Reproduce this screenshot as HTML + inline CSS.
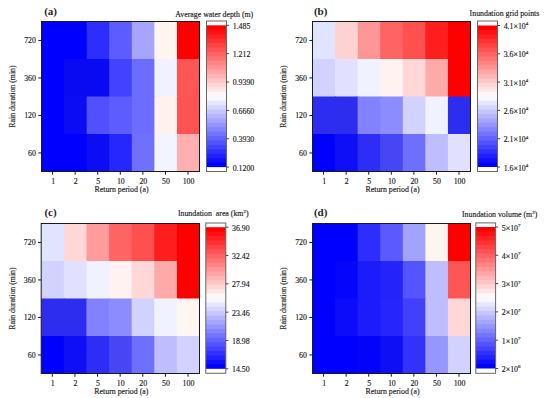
<!DOCTYPE html><html><head><meta charset="utf-8"><style>html,body{margin:0;padding:0;background:#fff;}svg{display:block;}text{font-family:"Liberation Serif",serif;fill:#1a1a1a;stroke:#1a1a1a;stroke-width:0.15px;}</style></head><body>
<svg width="550" height="398" viewBox="0 0 550 398">
<rect width="550" height="398" fill="#fff"/>
<rect x="41.50" y="21.50" width="23.57" height="38.50" fill="#0000ff"/>
<rect x="64.07" y="21.50" width="23.57" height="38.50" fill="#0000ff"/>
<rect x="86.64" y="21.50" width="23.57" height="38.50" fill="#2d2dff"/>
<rect x="109.21" y="21.50" width="23.57" height="38.50" fill="#5c5cff"/>
<rect x="131.79" y="21.50" width="23.57" height="38.50" fill="#a5a5ff"/>
<rect x="154.36" y="21.50" width="23.57" height="38.50" fill="#fff5f0"/>
<rect x="176.93" y="21.50" width="22.57" height="38.50" fill="#ff0000"/>
<rect x="41.50" y="59.00" width="23.57" height="38.50" fill="#0000ff"/>
<rect x="64.07" y="59.00" width="23.57" height="38.50" fill="#0a0af2"/>
<rect x="86.64" y="59.00" width="23.57" height="38.50" fill="#0a0af2"/>
<rect x="109.21" y="59.00" width="23.57" height="38.50" fill="#4242ff"/>
<rect x="131.79" y="59.00" width="23.57" height="38.50" fill="#6c6cff"/>
<rect x="154.36" y="59.00" width="23.57" height="38.50" fill="#f0f3ff"/>
<rect x="176.93" y="59.00" width="22.57" height="38.50" fill="#ff5555"/>
<rect x="41.50" y="96.50" width="23.57" height="38.50" fill="#0000ff"/>
<rect x="64.07" y="96.50" width="23.57" height="38.50" fill="#0c0cf2"/>
<rect x="86.64" y="96.50" width="23.57" height="38.50" fill="#5050ff"/>
<rect x="109.21" y="96.50" width="23.57" height="38.50" fill="#5c5cff"/>
<rect x="131.79" y="96.50" width="23.57" height="38.50" fill="#6c6cff"/>
<rect x="154.36" y="96.50" width="23.57" height="38.50" fill="#fff2ee"/>
<rect x="176.93" y="96.50" width="22.57" height="38.50" fill="#ff5252"/>
<rect x="41.50" y="134.00" width="23.57" height="37.50" fill="#0000ff"/>
<rect x="64.07" y="134.00" width="23.57" height="37.50" fill="#0000ff"/>
<rect x="86.64" y="134.00" width="23.57" height="37.50" fill="#0c0cf5"/>
<rect x="109.21" y="134.00" width="23.57" height="37.50" fill="#2626ff"/>
<rect x="131.79" y="134.00" width="23.57" height="37.50" fill="#7070ff"/>
<rect x="154.36" y="134.00" width="23.57" height="37.50" fill="#f2f5ff"/>
<rect x="176.93" y="134.00" width="22.57" height="37.50" fill="#ffafaf"/>
<rect x="41.50" y="21.50" width="158.00" height="150.00" fill="none" stroke="#1a1a1a" stroke-width="1"/>
<line x1="52.59" y1="171.50" x2="52.59" y2="174.70" stroke="#1a1a1a" stroke-width="1"/>
<text x="53.09" y="184.20" font-size="7.85" text-anchor="middle">1</text>
<line x1="75.16" y1="171.50" x2="75.16" y2="174.70" stroke="#1a1a1a" stroke-width="1"/>
<text x="75.66" y="184.20" font-size="7.85" text-anchor="middle">2</text>
<line x1="97.73" y1="171.50" x2="97.73" y2="174.70" stroke="#1a1a1a" stroke-width="1"/>
<text x="98.23" y="184.20" font-size="7.85" text-anchor="middle">5</text>
<line x1="120.30" y1="171.50" x2="120.30" y2="174.70" stroke="#1a1a1a" stroke-width="1"/>
<text x="120.80" y="184.20" font-size="7.85" text-anchor="middle">10</text>
<line x1="142.87" y1="171.50" x2="142.87" y2="174.70" stroke="#1a1a1a" stroke-width="1"/>
<text x="143.37" y="184.20" font-size="7.85" text-anchor="middle">20</text>
<line x1="165.44" y1="171.50" x2="165.44" y2="174.70" stroke="#1a1a1a" stroke-width="1"/>
<text x="165.94" y="184.20" font-size="7.85" text-anchor="middle">50</text>
<line x1="188.01" y1="171.50" x2="188.01" y2="174.70" stroke="#1a1a1a" stroke-width="1"/>
<text x="188.51" y="184.20" font-size="7.85" text-anchor="middle">100</text>
<line x1="38.30" y1="40.45" x2="41.50" y2="40.45" stroke="#1a1a1a" stroke-width="1"/>
<text x="35.90" y="43.45" font-size="7.85" text-anchor="end">720</text>
<line x1="38.30" y1="77.95" x2="41.50" y2="77.95" stroke="#1a1a1a" stroke-width="1"/>
<text x="35.90" y="80.95" font-size="7.85" text-anchor="end">360</text>
<line x1="38.30" y1="115.45" x2="41.50" y2="115.45" stroke="#1a1a1a" stroke-width="1"/>
<text x="35.90" y="118.45" font-size="7.85" text-anchor="end">120</text>
<line x1="38.30" y1="152.95" x2="41.50" y2="152.95" stroke="#1a1a1a" stroke-width="1"/>
<text x="35.90" y="155.95" font-size="7.85" text-anchor="end">60</text>
<text x="121.50" y="191.80" font-size="7.85" text-anchor="middle">Return period (a)</text>
<text x="0" y="0" font-size="7.85" text-anchor="middle" transform="translate(15.10,96.50) rotate(-90)">Rain duration (min)</text>
<text x="44.20" y="14.90" font-size="11" font-weight="bold" style="stroke-width:0;fill:#262626">(a)</text>
<rect x="206.50" y="25.30" width="20.00" height="5.43" fill="#ff0000"/>
<rect x="206.50" y="29.73" width="20.00" height="5.43" fill="#ff1010"/>
<rect x="206.50" y="34.16" width="20.00" height="5.43" fill="#ff2121"/>
<rect x="206.50" y="38.59" width="20.00" height="5.43" fill="#ff3131"/>
<rect x="206.50" y="43.02" width="20.00" height="5.43" fill="#ff4242"/>
<rect x="206.50" y="47.46" width="20.00" height="5.43" fill="#ff5252"/>
<rect x="206.50" y="51.89" width="20.00" height="5.43" fill="#ff6363"/>
<rect x="206.50" y="56.32" width="20.00" height="5.43" fill="#ff7373"/>
<rect x="206.50" y="60.75" width="20.00" height="5.43" fill="#ff8484"/>
<rect x="206.50" y="65.18" width="20.00" height="5.43" fill="#ff9494"/>
<rect x="206.50" y="69.61" width="20.00" height="5.43" fill="#ffa5a5"/>
<rect x="206.50" y="74.04" width="20.00" height="5.43" fill="#ffb5b5"/>
<rect x="206.50" y="78.47" width="20.00" height="5.43" fill="#ffc5c5"/>
<rect x="206.50" y="82.91" width="20.00" height="5.43" fill="#ffd6d6"/>
<rect x="206.50" y="87.34" width="20.00" height="5.43" fill="#ffe6e6"/>
<rect x="206.50" y="91.77" width="20.00" height="5.43" fill="#fff7f7"/>
<rect x="206.50" y="96.20" width="20.00" height="5.43" fill="#f7f7ff"/>
<rect x="206.50" y="100.63" width="20.00" height="5.43" fill="#e6e6ff"/>
<rect x="206.50" y="105.06" width="20.00" height="5.43" fill="#d6d6ff"/>
<rect x="206.50" y="109.49" width="20.00" height="5.43" fill="#c5c5ff"/>
<rect x="206.50" y="113.92" width="20.00" height="5.43" fill="#b5b5ff"/>
<rect x="206.50" y="118.36" width="20.00" height="5.43" fill="#a5a5ff"/>
<rect x="206.50" y="122.79" width="20.00" height="5.43" fill="#9494ff"/>
<rect x="206.50" y="127.22" width="20.00" height="5.43" fill="#8484ff"/>
<rect x="206.50" y="131.65" width="20.00" height="5.43" fill="#7373ff"/>
<rect x="206.50" y="136.08" width="20.00" height="5.43" fill="#6363ff"/>
<rect x="206.50" y="140.51" width="20.00" height="5.43" fill="#5252ff"/>
<rect x="206.50" y="144.94" width="20.00" height="5.43" fill="#4242ff"/>
<rect x="206.50" y="149.38" width="20.00" height="5.43" fill="#3131ff"/>
<rect x="206.50" y="153.81" width="20.00" height="5.43" fill="#2121ff"/>
<rect x="206.50" y="158.24" width="20.00" height="5.43" fill="#1010ff"/>
<rect x="206.50" y="162.67" width="20.00" height="4.43" fill="#0000ff"/>
<rect x="206.50" y="21.00" width="20.00" height="150.50" fill="none" stroke="#666" stroke-width="1"/>
<line x1="226.50" y1="25.30" x2="229.10" y2="25.30" stroke="#333" stroke-width="0.9"/>
<text x="232.70" y="28.70" font-size="7.85">1.485</text>
<line x1="226.50" y1="53.66" x2="229.10" y2="53.66" stroke="#333" stroke-width="0.9"/>
<text x="232.70" y="57.06" font-size="7.85">1.212</text>
<line x1="226.50" y1="82.02" x2="229.10" y2="82.02" stroke="#333" stroke-width="0.9"/>
<text x="232.70" y="85.42" font-size="7.85">0.9390</text>
<line x1="226.50" y1="110.38" x2="229.10" y2="110.38" stroke="#333" stroke-width="0.9"/>
<text x="232.70" y="113.78" font-size="7.85">0.6660</text>
<line x1="226.50" y1="138.74" x2="229.10" y2="138.74" stroke="#333" stroke-width="0.9"/>
<text x="232.70" y="142.14" font-size="7.85">0.3930</text>
<line x1="226.50" y1="167.10" x2="229.10" y2="167.10" stroke="#333" stroke-width="0.9"/>
<text x="232.70" y="170.50" font-size="7.85">0.1200</text>
<text x="175.20" y="16.50" font-size="7.85">Average water depth (m)</text>
<rect x="312.50" y="21.50" width="23.57" height="38.50" fill="#e1e4ff"/>
<rect x="335.07" y="21.50" width="23.57" height="38.50" fill="#ffd2d2"/>
<rect x="357.64" y="21.50" width="23.57" height="38.50" fill="#ff9696"/>
<rect x="380.21" y="21.50" width="23.57" height="38.50" fill="#ff6464"/>
<rect x="402.79" y="21.50" width="23.57" height="38.50" fill="#ff5050"/>
<rect x="425.36" y="21.50" width="23.57" height="38.50" fill="#ff1e1e"/>
<rect x="447.93" y="21.50" width="22.57" height="38.50" fill="#ff0000"/>
<rect x="312.50" y="59.00" width="23.57" height="38.50" fill="#d2d2ff"/>
<rect x="335.07" y="59.00" width="23.57" height="38.50" fill="#e1e1ff"/>
<rect x="357.64" y="59.00" width="23.57" height="38.50" fill="#f0f3ff"/>
<rect x="380.21" y="59.00" width="23.57" height="38.50" fill="#fff2f0"/>
<rect x="402.79" y="59.00" width="23.57" height="38.50" fill="#ffd7d7"/>
<rect x="425.36" y="59.00" width="23.57" height="38.50" fill="#ffaaaa"/>
<rect x="447.93" y="59.00" width="22.57" height="38.50" fill="#ff0000"/>
<rect x="312.50" y="96.50" width="23.57" height="38.50" fill="#2d2df0"/>
<rect x="335.07" y="96.50" width="23.57" height="38.50" fill="#2d2df0"/>
<rect x="357.64" y="96.50" width="23.57" height="38.50" fill="#8282ff"/>
<rect x="380.21" y="96.50" width="23.57" height="38.50" fill="#8c8cff"/>
<rect x="402.79" y="96.50" width="23.57" height="38.50" fill="#d2d2ff"/>
<rect x="425.36" y="96.50" width="23.57" height="38.50" fill="#f0f3ff"/>
<rect x="447.93" y="96.50" width="22.57" height="38.50" fill="#2d2df0"/>
<rect x="312.50" y="134.00" width="23.57" height="37.50" fill="#0000ff"/>
<rect x="335.07" y="134.00" width="23.57" height="37.50" fill="#0f0ff5"/>
<rect x="357.64" y="134.00" width="23.57" height="37.50" fill="#2d2df5"/>
<rect x="380.21" y="134.00" width="23.57" height="37.50" fill="#4646f5"/>
<rect x="402.79" y="134.00" width="23.57" height="37.50" fill="#6e6eff"/>
<rect x="425.36" y="134.00" width="23.57" height="37.50" fill="#bebeff"/>
<rect x="447.93" y="134.00" width="22.57" height="37.50" fill="#e1e1ff"/>
<rect x="312.50" y="21.50" width="158.00" height="150.00" fill="none" stroke="#1a1a1a" stroke-width="1"/>
<line x1="323.59" y1="171.50" x2="323.59" y2="174.70" stroke="#1a1a1a" stroke-width="1"/>
<text x="324.09" y="184.20" font-size="7.85" text-anchor="middle">1</text>
<line x1="346.16" y1="171.50" x2="346.16" y2="174.70" stroke="#1a1a1a" stroke-width="1"/>
<text x="346.66" y="184.20" font-size="7.85" text-anchor="middle">2</text>
<line x1="368.73" y1="171.50" x2="368.73" y2="174.70" stroke="#1a1a1a" stroke-width="1"/>
<text x="369.23" y="184.20" font-size="7.85" text-anchor="middle">5</text>
<line x1="391.30" y1="171.50" x2="391.30" y2="174.70" stroke="#1a1a1a" stroke-width="1"/>
<text x="391.80" y="184.20" font-size="7.85" text-anchor="middle">10</text>
<line x1="413.87" y1="171.50" x2="413.87" y2="174.70" stroke="#1a1a1a" stroke-width="1"/>
<text x="414.37" y="184.20" font-size="7.85" text-anchor="middle">20</text>
<line x1="436.44" y1="171.50" x2="436.44" y2="174.70" stroke="#1a1a1a" stroke-width="1"/>
<text x="436.94" y="184.20" font-size="7.85" text-anchor="middle">50</text>
<line x1="459.01" y1="171.50" x2="459.01" y2="174.70" stroke="#1a1a1a" stroke-width="1"/>
<text x="459.51" y="184.20" font-size="7.85" text-anchor="middle">100</text>
<line x1="309.30" y1="40.45" x2="312.50" y2="40.45" stroke="#1a1a1a" stroke-width="1"/>
<text x="306.90" y="43.45" font-size="7.85" text-anchor="end">720</text>
<line x1="309.30" y1="77.95" x2="312.50" y2="77.95" stroke="#1a1a1a" stroke-width="1"/>
<text x="306.90" y="80.95" font-size="7.85" text-anchor="end">360</text>
<line x1="309.30" y1="115.45" x2="312.50" y2="115.45" stroke="#1a1a1a" stroke-width="1"/>
<text x="306.90" y="118.45" font-size="7.85" text-anchor="end">120</text>
<line x1="309.30" y1="152.95" x2="312.50" y2="152.95" stroke="#1a1a1a" stroke-width="1"/>
<text x="306.90" y="155.95" font-size="7.85" text-anchor="end">60</text>
<text x="392.50" y="191.80" font-size="7.85" text-anchor="middle">Return period (a)</text>
<text x="0" y="0" font-size="7.85" text-anchor="middle" transform="translate(286.10,96.50) rotate(-90)">Rain duration (min)</text>
<text x="313.90" y="14.90" font-size="11" font-weight="bold" style="stroke-width:0;fill:#262626">(b)</text>
<rect x="477.50" y="25.50" width="20.00" height="5.42" fill="#ff0000"/>
<rect x="477.50" y="29.92" width="20.00" height="5.42" fill="#ff1010"/>
<rect x="477.50" y="34.34" width="20.00" height="5.42" fill="#ff2121"/>
<rect x="477.50" y="38.77" width="20.00" height="5.42" fill="#ff3131"/>
<rect x="477.50" y="43.19" width="20.00" height="5.42" fill="#ff4242"/>
<rect x="477.50" y="47.61" width="20.00" height="5.42" fill="#ff5252"/>
<rect x="477.50" y="52.03" width="20.00" height="5.42" fill="#ff6363"/>
<rect x="477.50" y="56.45" width="20.00" height="5.42" fill="#ff7373"/>
<rect x="477.50" y="60.88" width="20.00" height="5.42" fill="#ff8484"/>
<rect x="477.50" y="65.30" width="20.00" height="5.42" fill="#ff9494"/>
<rect x="477.50" y="69.72" width="20.00" height="5.42" fill="#ffa5a5"/>
<rect x="477.50" y="74.14" width="20.00" height="5.42" fill="#ffb5b5"/>
<rect x="477.50" y="78.56" width="20.00" height="5.42" fill="#ffc5c5"/>
<rect x="477.50" y="82.98" width="20.00" height="5.42" fill="#ffd6d6"/>
<rect x="477.50" y="87.41" width="20.00" height="5.42" fill="#ffe6e6"/>
<rect x="477.50" y="91.83" width="20.00" height="5.42" fill="#fff7f7"/>
<rect x="477.50" y="96.25" width="20.00" height="5.42" fill="#f7f7ff"/>
<rect x="477.50" y="100.67" width="20.00" height="5.42" fill="#e6e6ff"/>
<rect x="477.50" y="105.09" width="20.00" height="5.42" fill="#d6d6ff"/>
<rect x="477.50" y="109.52" width="20.00" height="5.42" fill="#c5c5ff"/>
<rect x="477.50" y="113.94" width="20.00" height="5.42" fill="#b5b5ff"/>
<rect x="477.50" y="118.36" width="20.00" height="5.42" fill="#a5a5ff"/>
<rect x="477.50" y="122.78" width="20.00" height="5.42" fill="#9494ff"/>
<rect x="477.50" y="127.20" width="20.00" height="5.42" fill="#8484ff"/>
<rect x="477.50" y="131.62" width="20.00" height="5.42" fill="#7373ff"/>
<rect x="477.50" y="136.05" width="20.00" height="5.42" fill="#6363ff"/>
<rect x="477.50" y="140.47" width="20.00" height="5.42" fill="#5252ff"/>
<rect x="477.50" y="144.89" width="20.00" height="5.42" fill="#4242ff"/>
<rect x="477.50" y="149.31" width="20.00" height="5.42" fill="#3131ff"/>
<rect x="477.50" y="153.73" width="20.00" height="5.42" fill="#2121ff"/>
<rect x="477.50" y="158.16" width="20.00" height="5.42" fill="#1010ff"/>
<rect x="477.50" y="162.58" width="20.00" height="4.42" fill="#0000ff"/>
<rect x="477.50" y="21.00" width="20.00" height="150.50" fill="none" stroke="#666" stroke-width="1"/>
<line x1="497.50" y1="25.50" x2="500.10" y2="25.50" stroke="#333" stroke-width="0.9"/>
<text x="503.70" y="29.00" font-size="7.85">4.1×10<tspan font-size="5" dy="-3.6">4</tspan></text>
<line x1="497.50" y1="53.80" x2="500.10" y2="53.80" stroke="#333" stroke-width="0.9"/>
<text x="503.70" y="57.30" font-size="7.85">3.6×10<tspan font-size="5" dy="-3.6">4</tspan></text>
<line x1="497.50" y1="82.10" x2="500.10" y2="82.10" stroke="#333" stroke-width="0.9"/>
<text x="503.70" y="85.60" font-size="7.85">3.1×10<tspan font-size="5" dy="-3.6">4</tspan></text>
<line x1="497.50" y1="110.40" x2="500.10" y2="110.40" stroke="#333" stroke-width="0.9"/>
<text x="503.70" y="113.90" font-size="7.85">2.6×10<tspan font-size="5" dy="-3.6">4</tspan></text>
<line x1="497.50" y1="138.70" x2="500.10" y2="138.70" stroke="#333" stroke-width="0.9"/>
<text x="503.70" y="142.20" font-size="7.85">2.1×10<tspan font-size="5" dy="-3.6">4</tspan></text>
<line x1="497.50" y1="167.00" x2="500.10" y2="167.00" stroke="#333" stroke-width="0.9"/>
<text x="503.70" y="170.50" font-size="7.85">1.6×10<tspan font-size="5" dy="-3.6">4</tspan></text>
<text x="469.60" y="15.80" font-size="7.85">Inundation grid points</text>
<rect x="41.20" y="223.50" width="23.61" height="38.50" fill="#e1e4ff"/>
<rect x="63.81" y="223.50" width="23.61" height="38.50" fill="#ffd7d7"/>
<rect x="86.43" y="223.50" width="23.61" height="38.50" fill="#ff9b9b"/>
<rect x="109.04" y="223.50" width="23.61" height="38.50" fill="#ff6464"/>
<rect x="131.66" y="223.50" width="23.61" height="38.50" fill="#ff5050"/>
<rect x="154.27" y="223.50" width="23.61" height="38.50" fill="#ff1e1e"/>
<rect x="176.89" y="223.50" width="22.61" height="38.50" fill="#ff0000"/>
<rect x="41.20" y="261.00" width="23.61" height="38.50" fill="#d2d2ff"/>
<rect x="63.81" y="261.00" width="23.61" height="38.50" fill="#e1e1ff"/>
<rect x="86.43" y="261.00" width="23.61" height="38.50" fill="#f0f3ff"/>
<rect x="109.04" y="261.00" width="23.61" height="38.50" fill="#fff2f0"/>
<rect x="131.66" y="261.00" width="23.61" height="38.50" fill="#ffd7d7"/>
<rect x="154.27" y="261.00" width="23.61" height="38.50" fill="#ffaaaa"/>
<rect x="176.89" y="261.00" width="22.61" height="38.50" fill="#ff0000"/>
<rect x="41.20" y="298.50" width="23.61" height="38.50" fill="#2d2df0"/>
<rect x="63.81" y="298.50" width="23.61" height="38.50" fill="#2d2df0"/>
<rect x="86.43" y="298.50" width="23.61" height="38.50" fill="#8282ff"/>
<rect x="109.04" y="298.50" width="23.61" height="38.50" fill="#8c8cff"/>
<rect x="131.66" y="298.50" width="23.61" height="38.50" fill="#d2d2ff"/>
<rect x="154.27" y="298.50" width="23.61" height="38.50" fill="#f0f3ff"/>
<rect x="176.89" y="298.50" width="22.61" height="38.50" fill="#fff5f2"/>
<rect x="41.20" y="336.00" width="23.61" height="37.50" fill="#0000ff"/>
<rect x="63.81" y="336.00" width="23.61" height="37.50" fill="#0f0ff5"/>
<rect x="86.43" y="336.00" width="23.61" height="37.50" fill="#2d2df5"/>
<rect x="109.04" y="336.00" width="23.61" height="37.50" fill="#4646f5"/>
<rect x="131.66" y="336.00" width="23.61" height="37.50" fill="#6e6eff"/>
<rect x="154.27" y="336.00" width="23.61" height="37.50" fill="#bebeff"/>
<rect x="176.89" y="336.00" width="22.61" height="37.50" fill="#d2d2ff"/>
<rect x="41.20" y="223.50" width="158.30" height="150.00" fill="none" stroke="#1a1a1a" stroke-width="1"/>
<line x1="52.31" y1="373.50" x2="52.31" y2="376.70" stroke="#1a1a1a" stroke-width="1"/>
<text x="52.81" y="386.20" font-size="7.85" text-anchor="middle">1</text>
<line x1="74.92" y1="373.50" x2="74.92" y2="376.70" stroke="#1a1a1a" stroke-width="1"/>
<text x="75.42" y="386.20" font-size="7.85" text-anchor="middle">2</text>
<line x1="97.54" y1="373.50" x2="97.54" y2="376.70" stroke="#1a1a1a" stroke-width="1"/>
<text x="98.04" y="386.20" font-size="7.85" text-anchor="middle">5</text>
<line x1="120.15" y1="373.50" x2="120.15" y2="376.70" stroke="#1a1a1a" stroke-width="1"/>
<text x="120.65" y="386.20" font-size="7.85" text-anchor="middle">10</text>
<line x1="142.76" y1="373.50" x2="142.76" y2="376.70" stroke="#1a1a1a" stroke-width="1"/>
<text x="143.26" y="386.20" font-size="7.85" text-anchor="middle">20</text>
<line x1="165.38" y1="373.50" x2="165.38" y2="376.70" stroke="#1a1a1a" stroke-width="1"/>
<text x="165.88" y="386.20" font-size="7.85" text-anchor="middle">50</text>
<line x1="187.99" y1="373.50" x2="187.99" y2="376.70" stroke="#1a1a1a" stroke-width="1"/>
<text x="188.49" y="386.20" font-size="7.85" text-anchor="middle">100</text>
<line x1="38.00" y1="242.45" x2="41.20" y2="242.45" stroke="#1a1a1a" stroke-width="1"/>
<text x="35.60" y="245.45" font-size="7.85" text-anchor="end">720</text>
<line x1="38.00" y1="279.95" x2="41.20" y2="279.95" stroke="#1a1a1a" stroke-width="1"/>
<text x="35.60" y="282.95" font-size="7.85" text-anchor="end">360</text>
<line x1="38.00" y1="317.45" x2="41.20" y2="317.45" stroke="#1a1a1a" stroke-width="1"/>
<text x="35.60" y="320.45" font-size="7.85" text-anchor="end">120</text>
<line x1="38.00" y1="354.95" x2="41.20" y2="354.95" stroke="#1a1a1a" stroke-width="1"/>
<text x="35.60" y="357.95" font-size="7.85" text-anchor="end">60</text>
<text x="121.35" y="393.80" font-size="7.85" text-anchor="middle">Return period (a)</text>
<text x="0" y="0" font-size="7.85" text-anchor="middle" transform="translate(14.80,298.50) rotate(-90)">Rain duration (min)</text>
<text x="44.40" y="216.10" font-size="11" font-weight="bold" style="stroke-width:0;fill:#262626">(c)</text>
<rect x="205.80" y="227.20" width="20.00" height="5.43" fill="#ff0000"/>
<rect x="205.80" y="231.62" width="20.00" height="5.43" fill="#ff1010"/>
<rect x="205.80" y="236.05" width="20.00" height="5.43" fill="#ff2121"/>
<rect x="205.80" y="240.47" width="20.00" height="5.43" fill="#ff3131"/>
<rect x="205.80" y="244.90" width="20.00" height="5.43" fill="#ff4242"/>
<rect x="205.80" y="249.32" width="20.00" height="5.43" fill="#ff5252"/>
<rect x="205.80" y="253.75" width="20.00" height="5.43" fill="#ff6363"/>
<rect x="205.80" y="258.18" width="20.00" height="5.43" fill="#ff7373"/>
<rect x="205.80" y="262.60" width="20.00" height="5.43" fill="#ff8484"/>
<rect x="205.80" y="267.02" width="20.00" height="5.43" fill="#ff9494"/>
<rect x="205.80" y="271.45" width="20.00" height="5.43" fill="#ffa5a5"/>
<rect x="205.80" y="275.88" width="20.00" height="5.43" fill="#ffb5b5"/>
<rect x="205.80" y="280.30" width="20.00" height="5.43" fill="#ffc5c5"/>
<rect x="205.80" y="284.73" width="20.00" height="5.43" fill="#ffd6d6"/>
<rect x="205.80" y="289.15" width="20.00" height="5.43" fill="#ffe6e6"/>
<rect x="205.80" y="293.57" width="20.00" height="5.43" fill="#fff7f7"/>
<rect x="205.80" y="298.00" width="20.00" height="5.43" fill="#f7f7ff"/>
<rect x="205.80" y="302.43" width="20.00" height="5.43" fill="#e6e6ff"/>
<rect x="205.80" y="306.85" width="20.00" height="5.43" fill="#d6d6ff"/>
<rect x="205.80" y="311.27" width="20.00" height="5.43" fill="#c5c5ff"/>
<rect x="205.80" y="315.70" width="20.00" height="5.43" fill="#b5b5ff"/>
<rect x="205.80" y="320.12" width="20.00" height="5.43" fill="#a5a5ff"/>
<rect x="205.80" y="324.55" width="20.00" height="5.43" fill="#9494ff"/>
<rect x="205.80" y="328.98" width="20.00" height="5.43" fill="#8484ff"/>
<rect x="205.80" y="333.40" width="20.00" height="5.43" fill="#7373ff"/>
<rect x="205.80" y="337.82" width="20.00" height="5.43" fill="#6363ff"/>
<rect x="205.80" y="342.25" width="20.00" height="5.43" fill="#5252ff"/>
<rect x="205.80" y="346.68" width="20.00" height="5.43" fill="#4242ff"/>
<rect x="205.80" y="351.10" width="20.00" height="5.43" fill="#3131ff"/>
<rect x="205.80" y="355.52" width="20.00" height="5.43" fill="#2121ff"/>
<rect x="205.80" y="359.95" width="20.00" height="5.43" fill="#1010ff"/>
<rect x="205.80" y="364.38" width="20.00" height="4.43" fill="#0000ff"/>
<rect x="205.80" y="223.00" width="20.00" height="150.30" fill="none" stroke="#666" stroke-width="1"/>
<line x1="225.80" y1="227.20" x2="228.40" y2="227.20" stroke="#333" stroke-width="0.9"/>
<text x="232.00" y="230.60" font-size="7.85">36.90</text>
<line x1="225.80" y1="255.52" x2="228.40" y2="255.52" stroke="#333" stroke-width="0.9"/>
<text x="232.00" y="258.92" font-size="7.85">32.42</text>
<line x1="225.80" y1="283.84" x2="228.40" y2="283.84" stroke="#333" stroke-width="0.9"/>
<text x="232.00" y="287.24" font-size="7.85">27.94</text>
<line x1="225.80" y1="312.16" x2="228.40" y2="312.16" stroke="#333" stroke-width="0.9"/>
<text x="232.00" y="315.56" font-size="7.85">23.46</text>
<line x1="225.80" y1="340.48" x2="228.40" y2="340.48" stroke="#333" stroke-width="0.9"/>
<text x="232.00" y="343.88" font-size="7.85">18.98</text>
<line x1="225.80" y1="368.80" x2="228.40" y2="368.80" stroke="#333" stroke-width="0.9"/>
<text x="232.00" y="372.20" font-size="7.85">14.50</text>
<text x="177.90" y="215.90" font-size="7.85">Inundation  area (km<tspan font-size="5" dy="-3">2</tspan><tspan dy="3">)</tspan></text>
<rect x="312.50" y="223.50" width="23.57" height="38.50" fill="#0000ff"/>
<rect x="335.07" y="223.50" width="23.57" height="38.50" fill="#0000ff"/>
<rect x="357.64" y="223.50" width="23.57" height="38.50" fill="#2d2dff"/>
<rect x="380.21" y="223.50" width="23.57" height="38.50" fill="#5a5aff"/>
<rect x="402.79" y="223.50" width="23.57" height="38.50" fill="#a2a2ff"/>
<rect x="425.36" y="223.50" width="23.57" height="38.50" fill="#fff5f0"/>
<rect x="447.93" y="223.50" width="22.57" height="38.50" fill="#ff0000"/>
<rect x="312.50" y="261.00" width="23.57" height="38.50" fill="#0000ff"/>
<rect x="335.07" y="261.00" width="23.57" height="38.50" fill="#0505fc"/>
<rect x="357.64" y="261.00" width="23.57" height="38.50" fill="#1c1cfa"/>
<rect x="380.21" y="261.00" width="23.57" height="38.50" fill="#2323fa"/>
<rect x="402.79" y="261.00" width="23.57" height="38.50" fill="#5555ff"/>
<rect x="425.36" y="261.00" width="23.57" height="38.50" fill="#bebeff"/>
<rect x="447.93" y="261.00" width="22.57" height="38.50" fill="#ff5555"/>
<rect x="312.50" y="298.50" width="23.57" height="38.50" fill="#0000ff"/>
<rect x="335.07" y="298.50" width="23.57" height="38.50" fill="#0c0cfa"/>
<rect x="357.64" y="298.50" width="23.57" height="38.50" fill="#1c1cfa"/>
<rect x="380.21" y="298.50" width="23.57" height="38.50" fill="#2626fa"/>
<rect x="402.79" y="298.50" width="23.57" height="38.50" fill="#4141fa"/>
<rect x="425.36" y="298.50" width="23.57" height="38.50" fill="#bebeff"/>
<rect x="447.93" y="298.50" width="22.57" height="38.50" fill="#ffd7d7"/>
<rect x="312.50" y="336.00" width="23.57" height="37.50" fill="#0000ff"/>
<rect x="335.07" y="336.00" width="23.57" height="37.50" fill="#0000ff"/>
<rect x="357.64" y="336.00" width="23.57" height="37.50" fill="#0303fa"/>
<rect x="380.21" y="336.00" width="23.57" height="37.50" fill="#0f0ff5"/>
<rect x="402.79" y="336.00" width="23.57" height="37.50" fill="#3232fa"/>
<rect x="425.36" y="336.00" width="23.57" height="37.50" fill="#9696ff"/>
<rect x="447.93" y="336.00" width="22.57" height="37.50" fill="#d2d2ff"/>
<rect x="312.50" y="223.50" width="158.00" height="150.00" fill="none" stroke="#1a1a1a" stroke-width="1"/>
<line x1="323.59" y1="373.50" x2="323.59" y2="376.70" stroke="#1a1a1a" stroke-width="1"/>
<text x="324.09" y="386.20" font-size="7.85" text-anchor="middle">1</text>
<line x1="346.16" y1="373.50" x2="346.16" y2="376.70" stroke="#1a1a1a" stroke-width="1"/>
<text x="346.66" y="386.20" font-size="7.85" text-anchor="middle">2</text>
<line x1="368.73" y1="373.50" x2="368.73" y2="376.70" stroke="#1a1a1a" stroke-width="1"/>
<text x="369.23" y="386.20" font-size="7.85" text-anchor="middle">5</text>
<line x1="391.30" y1="373.50" x2="391.30" y2="376.70" stroke="#1a1a1a" stroke-width="1"/>
<text x="391.80" y="386.20" font-size="7.85" text-anchor="middle">10</text>
<line x1="413.87" y1="373.50" x2="413.87" y2="376.70" stroke="#1a1a1a" stroke-width="1"/>
<text x="414.37" y="386.20" font-size="7.85" text-anchor="middle">20</text>
<line x1="436.44" y1="373.50" x2="436.44" y2="376.70" stroke="#1a1a1a" stroke-width="1"/>
<text x="436.94" y="386.20" font-size="7.85" text-anchor="middle">50</text>
<line x1="459.01" y1="373.50" x2="459.01" y2="376.70" stroke="#1a1a1a" stroke-width="1"/>
<text x="459.51" y="386.20" font-size="7.85" text-anchor="middle">100</text>
<line x1="309.30" y1="242.45" x2="312.50" y2="242.45" stroke="#1a1a1a" stroke-width="1"/>
<text x="306.90" y="245.45" font-size="7.85" text-anchor="end">720</text>
<line x1="309.30" y1="279.95" x2="312.50" y2="279.95" stroke="#1a1a1a" stroke-width="1"/>
<text x="306.90" y="282.95" font-size="7.85" text-anchor="end">360</text>
<line x1="309.30" y1="317.45" x2="312.50" y2="317.45" stroke="#1a1a1a" stroke-width="1"/>
<text x="306.90" y="320.45" font-size="7.85" text-anchor="end">120</text>
<line x1="309.30" y1="354.95" x2="312.50" y2="354.95" stroke="#1a1a1a" stroke-width="1"/>
<text x="306.90" y="357.95" font-size="7.85" text-anchor="end">60</text>
<text x="392.50" y="393.80" font-size="7.85" text-anchor="middle">Return period (a)</text>
<text x="0" y="0" font-size="7.85" text-anchor="middle" transform="translate(286.10,298.50) rotate(-90)">Rain duration (min)</text>
<text x="313.90" y="216.10" font-size="11" font-weight="bold" style="stroke-width:0;fill:#262626">(d)</text>
<rect x="475.80" y="227.00" width="19.80" height="5.42" fill="#ff0000"/>
<rect x="475.80" y="231.42" width="19.80" height="5.42" fill="#ff1010"/>
<rect x="475.80" y="235.84" width="19.80" height="5.42" fill="#ff2121"/>
<rect x="475.80" y="240.27" width="19.80" height="5.42" fill="#ff3131"/>
<rect x="475.80" y="244.69" width="19.80" height="5.42" fill="#ff4242"/>
<rect x="475.80" y="249.11" width="19.80" height="5.42" fill="#ff5252"/>
<rect x="475.80" y="253.53" width="19.80" height="5.42" fill="#ff6363"/>
<rect x="475.80" y="257.95" width="19.80" height="5.42" fill="#ff7373"/>
<rect x="475.80" y="262.38" width="19.80" height="5.42" fill="#ff8484"/>
<rect x="475.80" y="266.80" width="19.80" height="5.42" fill="#ff9494"/>
<rect x="475.80" y="271.22" width="19.80" height="5.42" fill="#ffa5a5"/>
<rect x="475.80" y="275.64" width="19.80" height="5.42" fill="#ffb5b5"/>
<rect x="475.80" y="280.06" width="19.80" height="5.42" fill="#ffc5c5"/>
<rect x="475.80" y="284.48" width="19.80" height="5.42" fill="#ffd6d6"/>
<rect x="475.80" y="288.91" width="19.80" height="5.42" fill="#ffe6e6"/>
<rect x="475.80" y="293.33" width="19.80" height="5.42" fill="#fff7f7"/>
<rect x="475.80" y="297.75" width="19.80" height="5.42" fill="#f7f7ff"/>
<rect x="475.80" y="302.17" width="19.80" height="5.42" fill="#e6e6ff"/>
<rect x="475.80" y="306.59" width="19.80" height="5.42" fill="#d6d6ff"/>
<rect x="475.80" y="311.02" width="19.80" height="5.42" fill="#c5c5ff"/>
<rect x="475.80" y="315.44" width="19.80" height="5.42" fill="#b5b5ff"/>
<rect x="475.80" y="319.86" width="19.80" height="5.42" fill="#a5a5ff"/>
<rect x="475.80" y="324.28" width="19.80" height="5.42" fill="#9494ff"/>
<rect x="475.80" y="328.70" width="19.80" height="5.42" fill="#8484ff"/>
<rect x="475.80" y="333.12" width="19.80" height="5.42" fill="#7373ff"/>
<rect x="475.80" y="337.55" width="19.80" height="5.42" fill="#6363ff"/>
<rect x="475.80" y="341.97" width="19.80" height="5.42" fill="#5252ff"/>
<rect x="475.80" y="346.39" width="19.80" height="5.42" fill="#4242ff"/>
<rect x="475.80" y="350.81" width="19.80" height="5.42" fill="#3131ff"/>
<rect x="475.80" y="355.23" width="19.80" height="5.42" fill="#2121ff"/>
<rect x="475.80" y="359.66" width="19.80" height="5.42" fill="#1010ff"/>
<rect x="475.80" y="364.08" width="19.80" height="4.42" fill="#0000ff"/>
<rect x="475.80" y="222.90" width="19.80" height="150.40" fill="none" stroke="#666" stroke-width="1"/>
<line x1="495.60" y1="227.00" x2="498.20" y2="227.00" stroke="#333" stroke-width="0.9"/>
<text x="501.80" y="230.50" font-size="7.85">5×10<tspan font-size="5" dy="-3.6">7</tspan></text>
<line x1="495.60" y1="255.30" x2="498.20" y2="255.30" stroke="#333" stroke-width="0.9"/>
<text x="501.80" y="258.80" font-size="7.85">4×10<tspan font-size="5" dy="-3.6">7</tspan></text>
<line x1="495.60" y1="283.60" x2="498.20" y2="283.60" stroke="#333" stroke-width="0.9"/>
<text x="501.80" y="287.10" font-size="7.85">3×10<tspan font-size="5" dy="-3.6">7</tspan></text>
<line x1="495.60" y1="311.90" x2="498.20" y2="311.90" stroke="#333" stroke-width="0.9"/>
<text x="501.80" y="315.40" font-size="7.85">2×10<tspan font-size="5" dy="-3.6">7</tspan></text>
<line x1="495.60" y1="340.20" x2="498.20" y2="340.20" stroke="#333" stroke-width="0.9"/>
<text x="501.80" y="343.70" font-size="7.85">1×10<tspan font-size="5" dy="-3.6">7</tspan></text>
<line x1="495.60" y1="368.50" x2="498.20" y2="368.50" stroke="#333" stroke-width="0.9"/>
<text x="501.80" y="372.00" font-size="7.85">2×10<tspan font-size="5" dy="-3.6">6</tspan></text>
<text x="462.00" y="216.60" font-size="7.85">Inundation volume (m<tspan font-size="5" dy="-3">3</tspan><tspan dy="3">)</tspan></text>
</svg></body></html>
